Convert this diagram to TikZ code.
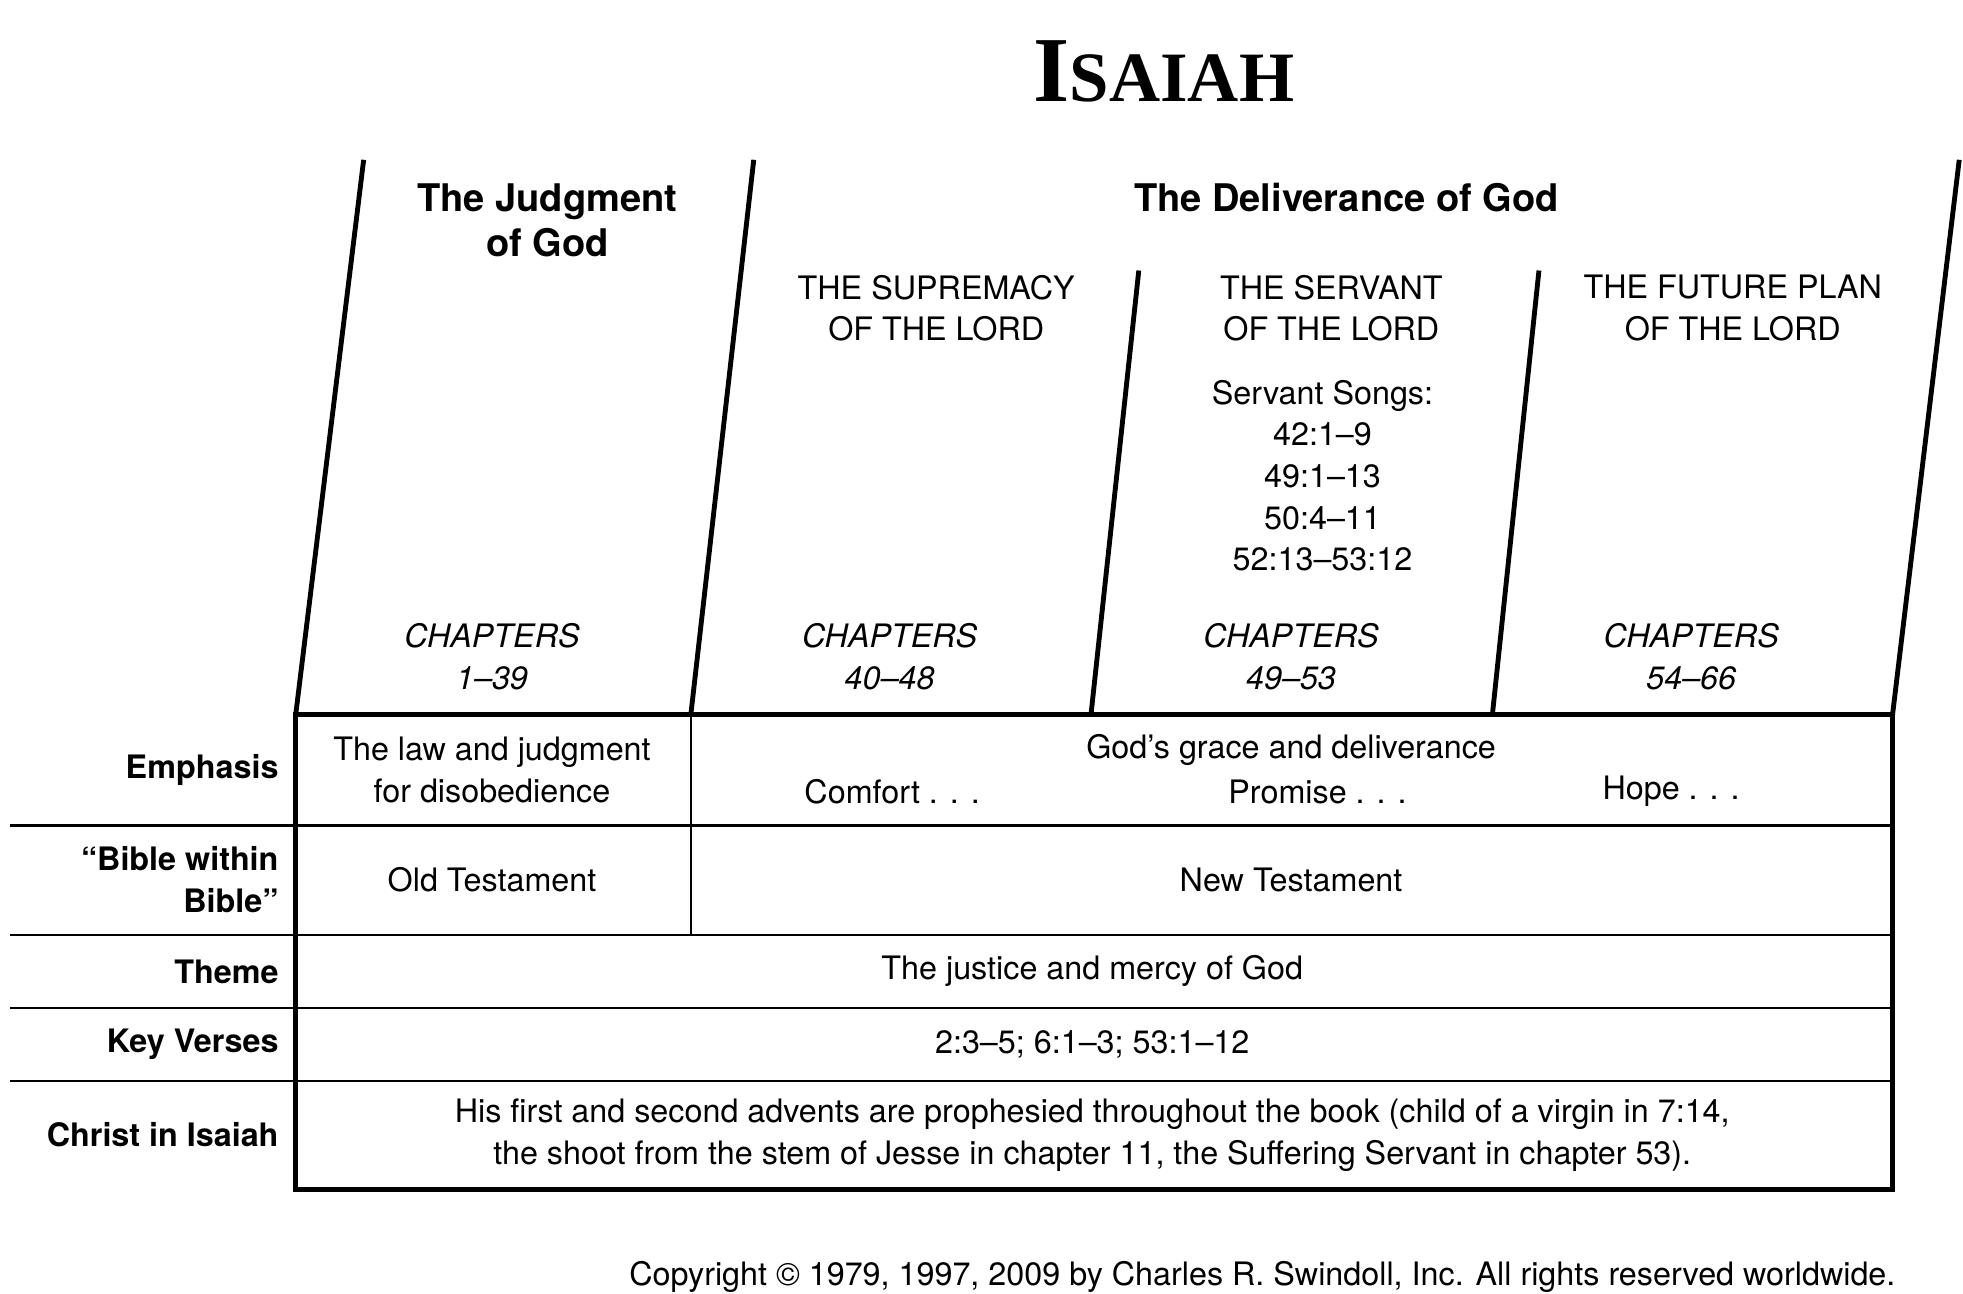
\documentclass[tikz,border=0pt]{standalone}
\usepackage{fontspec}
\setmainfont{TeX Gyre Heros}
\newfontfamily\titlefont{Liberation Serif}
\begin{document}
\begin{tikzpicture}[x=0.01cm,y=-0.01cm,
    txt/.style={font=\fontsize{7.3}{9.4}\selectfont, align=center, inner sep=0pt},
    head/.style={font=\fontsize{8.6}{10.3}\selectfont\bfseries, align=center, inner sep=0pt},
    rowlab/.style={font=\fontsize{7.3}{9.4}\selectfont\bfseries, align=right, anchor=east, inner sep=0pt},
    chap/.style={font=\fontsize{7.3}{9.4}\selectfont\itshape, align=center, inner sep=0pt},
    thin/.style={line width=0.6pt},
    thick/.style={line width=1.1pt}
    ]
    \useasboundingbox (0,0) rectangle (1560,1028);

    % Title
    \node[inner sep=0pt] (title) at (925,57) {\titlefont\bfseries{\fontsize{21}{21}\selectfont I}{\fontsize{16}{16}\selectfont SAIAH}};

    % Slanted dividers
    \coordinate (s1a) at (289,127); \coordinate (s1b) at (235,568);
    \coordinate (s2a) at (599,127); \coordinate (s2b) at (549,568);
    \coordinate (s3a) at (905,215); \coordinate (s3b) at (867,568);
    \coordinate (s4a) at (1223,215); \coordinate (s4b) at (1186,568);
    \coordinate (s5a) at (1557,127); \coordinate (s5b) at (1504,568);
    \foreach \s in {s1,s2,s5} \draw[thick] (\s a) -- (\s b);
    \foreach \s in {s3,s4} \draw[thick] (\s a) -- (\s b);

    % Table
    \draw[thick] (235,568) rectangle (1504,945);
    \draw[thin] (8,656) -- (1504,656);
    \draw[thin] (8,743) -- (1504,743);
    \draw[thin] (8,801) -- (1504,801);
    \draw[thin] (8,859) -- (1504,859);
    \draw[thin] (549,568) -- (549,743);

    % Column headings
    \node[head] (judg) at (435,175) {The Judgment\\of God};
    \node[head] (deliv) at (1070,157) {The Deliverance of God};
    \node[txt] (supr) at (744,245) {THE SUPREMACY\\OF THE LORD};
    \node[txt] (serv) at (1058,245) {THE SERVANT\\OF THE LORD};
    \node[txt] (futr) at (1377,245) {THE FUTURE PLAN\\OF THE LORD};
    \node[txt] (songs) at (1051,378) {Servant Songs:\\42:1--9\\49:1--13\\50:4--11\\52:13--53:12};

    % Chapters
    \node[chap] (ch1) at (391,522) {CHAPTERS\\1--39};
    \node[chap] (ch2) at (707,522) {CHAPTERS\\40--48};
    \node[chap] (ch3) at (1026,522) {CHAPTERS\\49--53};
    \node[chap] (ch4) at (1344,522) {CHAPTERS\\54--66};

    % Row labels
    \node[rowlab] (lemph) at (222,612) {Emphasis};
    \node[rowlab] (lbible) at (222,699) {``Bible within\\Bible''};
    \node[rowlab] (ltheme) at (222,772) {Theme};
    \node[rowlab] (lkey) at (222,830) {Key Verses};
    \node[rowlab] (lchrist) at (222,902) {Christ in Isaiah};

    % Cells
    \node[txt] (emph1) at (391,612) {The law and judgment\\for disobedience};
    \node[txt] (emph2) at (1026,596) {God's grace and deliverance};
    \node[txt] (comf) at (709,629) {Comfort . . .};
    \node[txt] (prom) at (1047,629) {Promise . . .};
    \node[txt] (hope) at (1328,629) {Hope . . .};
    \node[txt] (ot) at (391,699) {Old Testament};
    \node[txt] (nt) at (1026,699) {New Testament};
    \node[txt] (theme) at (868,772) {The justice and mercy of God};
    \node[txt] (key) at (868,830) {2:3--5; 6:1--3; 53:1--12};
    \node[txt] (christ) at (868,902) {His first and second advents are prophesied throughout the book (child of a virgin in 7:14,\\the shoot from the stem of Jesse in chapter 11, the Suffering Servant in chapter 53).};

    % Copyright
    \node[txt, anchor=east] (copy) at (1507,1015) {Copyright \textcopyright\ 1979, 1997, 2009 by Charles R. Swindoll, Inc. All rights reserved worldwide.};
\end{tikzpicture}
\end{document}
